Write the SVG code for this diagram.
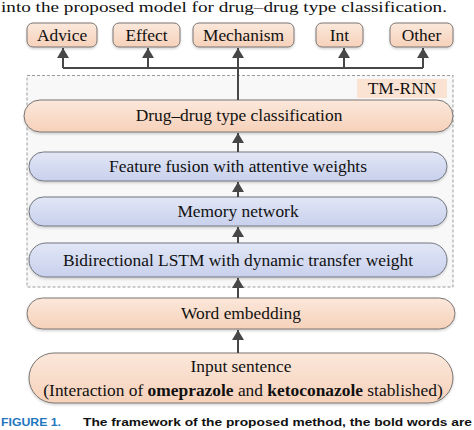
<svg xmlns="http://www.w3.org/2000/svg" width="474" height="430" viewBox="0 0 474 430">
<defs>
<linearGradient id="peach" x1="0" y1="0" x2="0" y2="1">
<stop offset="0" stop-color="#fbe8db"/>
<stop offset="1" stop-color="#f6d1ba"/>
</linearGradient>
<linearGradient id="blue" x1="0" y1="0" x2="0" y2="1">
<stop offset="0" stop-color="#e2e7f6"/>
<stop offset="1" stop-color="#c8d0ec"/>
</linearGradient>
<marker id="ah" viewBox="0 0 10 12" refX="10" refY="6" markerWidth="10" markerHeight="12" markerUnits="userSpaceOnUse" orient="auto">
<path d="M0,0 L10,6 L0,12 Z" fill="#474747"/>
</marker>
<filter id="sh" x="-5%" y="-20%" width="110%" height="150%">
<feDropShadow dx="0" dy="1.5" stdDeviation="1.2" flood-color="#000" flood-opacity="0.18"/>
</filter>
</defs>
<style>
text{font-family:"Liberation Serif","Times New Roman",serif;font-size:17.4px;fill:#111;text-anchor:middle}
.p{fill:url(#peach);stroke:#7a7572;stroke-width:1;filter:url(#sh)}
.b{fill:url(#blue);stroke:#73767f;stroke-width:1;filter:url(#sh)}
.c{fill:none;stroke:#474747;stroke-width:2}
.cap{font-family:"Liberation Sans",Arial,sans-serif;font-weight:bold;font-size:11px;text-anchor:start}
</style>
<rect width="474" height="430" fill="#ffffff"/>
<text x="1" y="12" textLength="446" lengthAdjust="spacingAndGlyphs" style="font-size:15px;text-anchor:start">into the proposed model for drug–drug type classification.</text>
<g id="tm-rnn">
<rect x="27" y="75.5" width="426" height="211.5" fill="#f8f8f8" stroke="#9a9a9a" stroke-width="1" stroke-dasharray="3,2"/>
<rect x="357" y="79" width="90" height="19" fill="#fbe3d3"/>
<text x="402" y="94">TM-RNN</text>
</g>
<g id="advice"><rect class="p" x="27" y="23" width="70" height="24" rx="6"/><text x="62" y="41">Advice</text></g>
<g id="effect"><rect class="p" x="113" y="23" width="67" height="24" rx="6"/><text x="146.5" y="41">Effect</text></g>
<g id="mechanism"><rect class="p" x="193" y="23" width="101" height="24" rx="6"/><text x="243.5" y="41">Mechanism</text></g>
<g id="int"><rect class="p" x="316" y="23" width="47" height="24" rx="6"/><text x="339.5" y="41">Int</text></g>
<g id="other"><rect class="p" x="390" y="23" width="63" height="24" rx="6"/><text x="421.5" y="41">Other</text></g>
<g id="classification"><rect class="p" x="24" y="100" width="429" height="32" rx="16"/><text x="239" y="121">Drug–drug type classification</text></g>
<g id="fusion"><rect class="b" x="29" y="152" width="418" height="29" rx="14.5"/><text x="238" y="172">Feature fusion with attentive weights</text></g>
<g id="memory"><rect class="b" x="29" y="197" width="418" height="29" rx="14.5"/><text x="238" y="217">Memory network</text></g>
<g id="bilstm"><rect class="b" x="29" y="243" width="418" height="34" rx="17"/><text x="238" y="266">Bidirectional LSTM with dynamic transfer weight</text></g>
<g id="embedding"><rect class="p" x="27" y="298" width="428" height="31" rx="15.5"/><text x="241" y="319">Word embedding</text></g>
<g id="input"><rect class="p" x="29" y="353" width="424" height="50" rx="25"/><text x="241" y="372">Input sentence</text><text x="243" y="396">(Interaction of <tspan font-weight="bold">omeprazole</tspan> and <tspan font-weight="bold">ketoconazole</tspan> stablished)</text></g>
<g id="connectors">
<path class="c" d="M238,100 V68 M63,68 H423"/>
<path class="c" d="M63,68 V48" marker-end="url(#ah)"/>
<path class="c" d="M148,68 V48" marker-end="url(#ah)"/>
<path class="c" d="M238,68 V48" marker-end="url(#ah)"/>
<path class="c" d="M344,68 V48" marker-end="url(#ah)"/>
<path class="c" d="M423,68 V48" marker-end="url(#ah)"/>
<path class="c" d="M238,152 V133" marker-end="url(#ah)"/>
<path class="c" d="M238,197 V182" marker-end="url(#ah)"/>
<path class="c" d="M238,243 V227" marker-end="url(#ah)"/>
<path class="c" d="M238,298 V278" marker-end="url(#ah)"/>
<path class="c" d="M238,353 V330" marker-end="url(#ah)"/>
</g>
<text class="cap" x="1" y="426" textLength="60" lengthAdjust="spacingAndGlyphs" style="fill:#1f77c0">FIGURE 1.</text>
<text class="cap" x="83" y="426" textLength="389" lengthAdjust="spacingAndGlyphs">The framework of the proposed method, the bold words are</text>
</svg>
